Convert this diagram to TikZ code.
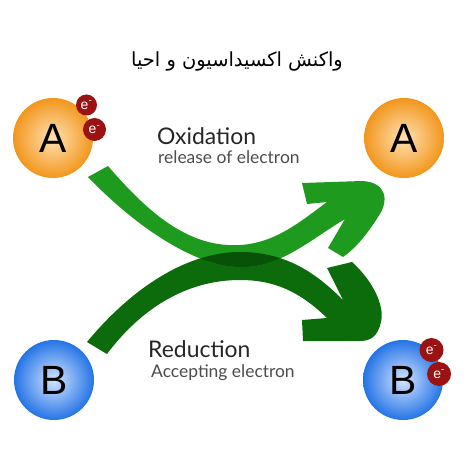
\documentclass[tikz,border=0pt]{standalone}
\usepackage{fontspec}
\setmainfont{Liberation Sans}
\newfontfamily\latofont{Lato}
\newfontfamily\persianfont[Script=Arabic]{DejaVu Sans}
\TeXXeTstate=1

\definecolor{oxgreen}{HTML}{1E9B1E}
\definecolor{redgreen}{HTML}{0C6C0C}
\definecolor{lensgreen}{HTML}{075207}
\definecolor{orangeout}{HTML}{F2961C}
\definecolor{orangein}{HTML}{FFE2B4}
\definecolor{blueout}{HTML}{2474E6}
\definecolor{bluein}{HTML}{D4E4FF}
\definecolor{electronred}{HTML}{9A1212}

\tikzset{
  atom/.style={circle, minimum size=80bp, inner sep=0pt, font=\fontsize{41}{41}\selectfont},
  electron/.style={circle, minimum size=22bp, inner sep=0pt, fill=electronred, text=white, font=\fontsize{14}{14}\selectfont},
}

% outlines of the two curved arrows
\def\oxpath{(108,166) .. controls (150,215) and (190,248) .. (240,245) .. controls (275,243) and (300,222) .. (327,202) -- (307,204) -- (302,183) -- (362,181) .. controls (386,182) and (390,200) .. (378,217) .. controls (368,233) and (356,248) .. (343,257) -- (328,248) -- (345,219) .. controls (310,240) and (280,268) .. (240,267) .. controls (195,267) and (135,226) .. (88,177) -- cycle}
\def\redpath{(87,342) .. controls (130,290) and (185,252) .. (240,252) .. controls (285,252) and (315,272) .. (343,300) -- (327,268) -- (352,262) .. controls (372,280) and (385,305) .. (381,322) .. controls (378,335) and (372,341) .. (360,341) -- (303,341) -- (302,320) -- (327,318) .. controls (300,292) and (275,280) .. (240,280) .. controls (185,280) and (140,310) .. (107,354) -- cycle}

\begin{document}
\begin{tikzpicture}[x=1bp, y=-1bp]
  \useasboundingbox (0,0) rectangle (474,474);
  % arrows
  \fill[redgreen] \redpath;
  \fill[oxgreen] \oxpath;
  \begin{scope}
    \clip \oxpath;
    \fill[lensgreen] \redpath;
  \end{scope}
  % atoms
  \node[atom, inner color=orangein, outer color=orangeout] (A1) at (53,138) {A};
  \node[atom, inner color=orangein, outer color=orangeout] (A2) at (404,138) {A};
  \node[atom, inner color=bluein, outer color=blueout] (B1) at (54,380) {B};
  \node[atom, inner color=bluein, outer color=blueout] (B2) at (403,380) {B};
  \node[electron, minimum size=21bp] (eA1) at (86.5,105) {e\textsuperscript{-}};
  \node[electron, minimum size=23bp] (eA2) at (94.5,129.5) {e\textsuperscript{-}};
  \node[electron, minimum size=24bp] (eB1) at (431.5,350) {e\textsuperscript{-}};
  \node[electron, minimum size=24bp] (eB2) at (439,374) {e\textsuperscript{-}};
  % texts
  \node[font=\persianfont\fontsize{19.5}{19.5}\selectfont] (title) at (237,61) {\beginR واکنش اکسیداسیون و احیا\endR};
  \node[anchor=base west, inner sep=0pt, text=black!85, font=\latofont\fontsize{23}{23}\selectfont] (ox) at (157,145) {Oxidation};
  \node[anchor=base west, inner sep=0pt, text=black!70, font=\latofont\fontsize{17.5}{17.5}\selectfont] (oxsub) at (158,164) {release of electron};
  \node[anchor=base west, inner sep=0pt, text=black!85, font=\latofont\fontsize{23}{23}\selectfont] (red) at (148,357) {Reduction};
  \node[anchor=base west, inner sep=0pt, text=black!70, font=\latofont\fontsize{17.5}{17.5}\selectfont] (redsub) at (151,377) {Accepting electron};
\end{tikzpicture}
\end{document}
